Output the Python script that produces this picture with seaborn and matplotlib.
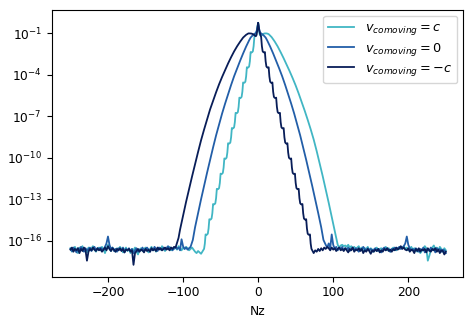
import numpy as np
import pandas as pd
import matplotlib
matplotlib.use("Agg")
import matplotlib.pyplot as plt
import seaborn as sns
from matplotlib.ticker import FixedLocator, NullLocator, LogFormatterMathtext

# ---------------- data (log10 of the plotted quantity) ----------------
labels = [r"$v_{comoving} = c$", r"$v_{comoving} = 0$", r"$v_{comoving} = -c$"]
colors = ["#41b6c4", "#225ea8", "#081d58"]

# noise floor segments (Nz step 2)
cyan_left_noise = [
    -16.55, -16.8, -16.6, -16.45, -16.7, -16.9, -16.5, -16.65, -16.4, -16.75,
    -16.6, -16.85, -16.5, -16.7, -16.55, -16.4, -16.65, -16.8, -16.6, -16.5,
    -16.7, -16.45, -16.6, -16.9, -16.55, -16.3, -16.6, -16.75, -16.5, -16.65,
    -16.8, -16.55, -16.7, -16.45, -16.6, -16.85, -16.65, -16.5, -16.75, -16.6,
    -16.9, -16.6, -16.7, -16.5, -16.8, -17.0, -16.65, -16.55, -16.75, -16.6,
    -16.5, -16.7, -16.85, -16.6, -16.45, -16.7, -16.55, -16.8, -16.6, -16.5,
    -16.65, -16.4, -16.6, -16.75, -16.5, -16.6, -16.45, -16.7, -16.55, -16.6,
    -16.5, -16.65, -16.4, -16.55, -16.7, -16.5, -16.6, -16.45, -16.55, -16.7,
    -16.6, -16.5, -16.65, -16.8, -16.9, -16.75, -16.85, -16.95]
cyan_right_noise = [
    -16.5, -16.35, -16.3, -16.4, -16.35, -16.45, -16.3, -16.5, -16.4, -16.55,
    -16.45, -16.6, -16.5, -16.4, -16.65, -16.5, -16.7, -16.55, -16.6, -16.45,
    -16.7, -16.55, -16.65, -16.8, -16.6, -16.5, -16.75, -16.6, -16.55, -16.7,
    -16.6, -16.45, -16.7, -16.55, -16.8, -16.6, -16.5, -16.65, -16.7, -16.55,
    -16.6, -16.45, -16.55, -16.4, -16.6, -16.5, -16.7, -16.6, -16.45, -16.65,
    -16.55, -16.7, -16.8, -16.6, -16.9, -16.75, -16.6, -16.4, -16.55, -17.45,
    -17.1, -16.7, -16.5, -16.35, -16.6, -16.5, -16.7, -16.45, -16.6, -16.8,
    -16.55, -16.7]
medium_left_noise = [
    -16.6, -16.75, -16.5, -16.65, -16.85, -16.55, -16.7, -16.45, -16.6, -16.8,
    -16.55, -16.7, -16.6, -16.5, -16.75, -16.6, -16.45, -16.7, -16.55, -16.65,
    -16.5, -16.6, -16.7, -16.45, -16.2, -15.7, -16.3, -16.6, -16.5, -16.75,
    -16.6, -16.8, -16.55, -16.65, -16.7, -16.5, -16.85, -16.6, -16.7, -16.55,
    -16.75, -16.6, -16.9, -16.7, -16.55, -16.8, -16.65, -16.7, -16.5, -16.75,
    -16.6, -16.5, -16.65, -16.8, -16.55, -16.7, -16.45, -16.6, -16.75, -16.5,
    -16.6, -16.7, -16.5, -16.65, -16.55, -16.4, -16.6, -16.5, -16.7, -16.55,
    -16.45, -16.6, -16.5, -16.7, -15.9, -16.4, -16.6, -16.5, -16.65, -16.55,
    -16.45]
medium_right_noise = [
    -16.3, -16.5, -16.2, -16.55, -15.55, -16.3, -16.6, -16.45, -16.7, -16.5,
    -16.6, -16.45, -16.7, -16.55, -16.65, -16.5, -16.75, -16.6, -16.5, -16.7,
    -16.55, -16.65, -16.8, -16.6, -16.7, -16.45, -16.6, -16.75, -16.55, -16.7,
    -16.6, -16.8, -16.65, -16.55, -16.75, -16.6, -16.7, -16.85, -16.6, -16.5,
    -16.7, -16.55, -16.65, -16.8, -16.6, -16.7, -16.5, -16.65, -16.55, -16.45,
    -16.6, -16.5, -16.4, -16.2, -15.7, -16.3, -16.55, -16.7, -16.6, -16.75,
    -16.55, -16.65, -16.8, -16.6, -16.7, -16.5, -16.85, -16.65, -16.6, -16.75,
    -16.5, -16.7, -16.6, -16.85, -16.55, -16.7, -16.6, -16.8, -16.65, -16.7,
    -16.9]
navy_left_noise = [
    -16.65, -16.5, -16.8, -16.6, -16.7, -16.55, -16.9, -16.6, -16.75, -16.5,
    -16.65, -17.45, -16.8, -16.6, -16.7, -16.5, -16.65, -16.75, -16.55, -16.7,
    -16.6, -16.8, -16.65, -16.5, -16.7, -16.4, -16.6, -16.75, -16.55, -16.65,
    -16.8, -16.6, -16.7, -16.55, -16.75, -16.6, -16.85, -16.65, -16.7, -16.6,
    -16.8, -16.7, -17.75, -16.9, -16.75, -16.6, -16.8, -16.65, -16.7, -16.85,
    -16.6, -16.75, -16.65, -16.8, -16.55, -16.7, -16.6, -16.75, -16.5, -16.65,
    -16.55, -16.7, -16.6, -16.5, -16.65, -16.55, -16.7, -16.5, -16.6, -16.45,
    -16.5]
navy_right_noise = [
    -16.9, -16.7, -16.8, -16.6, -16.75, -16.55, -16.7, -16.5, -16.6, -16.45,
    -16.55, -16.7, -16.5, -16.65, -16.55, -16.75, -16.6, -16.5, -16.7, -16.6,
    -16.75, -16.55, -16.7, -16.85, -16.6, -16.7, -16.5, -16.8, -16.65, -16.7,
    -16.55, -16.75, -16.6, -16.9, -16.7, -16.8, -16.6, -16.75, -16.95, -16.7,
    -16.8, -16.65, -16.75, -16.6, -16.85, -16.7, -16.8, -16.6, -16.7, -16.55,
    -16.75, -16.65, -16.8, -16.6, -16.7, -16.5, -16.65, -16.55, -16.4, -16.6,
    -16.5, -16.65, -16.7, -16.55, -16.8, -16.65, -16.7, -16.9, -16.6, -16.75,
    -16.55, -16.8, -16.65, -16.7, -16.6, -16.85, -16.55, -16.7, -16.8, -16.6,
    -16.7, -16.55, -16.8, -16.65, -16.9, -16.7, -16.75, -17.0, -16.8]

# staircase flanks (Nz step 1)
cyan_stair_log = [  # Nz = -72 .. -5
    -16.59, -16.22, -15.55, -15.58, -15.56, -15.49, -15.12,
    -14.45, -14.48, -14.46, -14.39, -14.02,
    -13.35, -13.38, -13.36, -13.29, -12.92,
    -12.25, -12.28, -12.26, -12.19, -11.82,
    -11.15, -11.18, -11.16, -11.09, -10.72,
    -10.05, -10.08, -10.06, -9.99, -9.62,
    -8.95, -8.98, -8.96, -8.89, -8.52,
    -7.85, -7.88, -7.86, -7.79, -7.42,
    -6.75, -6.78, -6.76, -6.69, -6.32,
    -5.65, -5.68, -5.66, -5.59, -5.22,
    -4.55, -4.58, -4.56, -4.49, -4.12,
    -3.45, -3.48, -3.46, -3.39, -3.02,
    -2.35, -2.38, -2.36, -2.29, -1.92,
    -1.25]
navy_stair_log = [  # Nz = 4 .. 71
    -1.25, -1.92, -2.29, -2.36, -2.38,
    -2.35, -3.02, -3.39, -3.46, -3.48,
    -3.45, -4.12, -4.49, -4.56, -4.58,
    -4.55, -5.22, -5.59, -5.66, -5.68,
    -5.65, -6.32, -6.69, -6.76, -6.78,
    -6.75, -7.42, -7.79, -7.86, -7.88,
    -7.85, -8.52, -8.89, -8.96, -8.98,
    -8.95, -9.62, -9.99, -10.06, -10.08,
    -10.05, -10.72, -11.09, -11.16, -11.18,
    -11.15, -11.82, -12.19, -12.26, -12.28,
    -12.25, -12.92, -13.29, -13.36, -13.38,
    -13.35, -14.02, -14.39, -14.46, -14.48,
    -14.45, -15.12, -15.49, -15.56, -15.58,
    -15.55, -16.22, -16.59]

# peak region + smooth flanks
cyan_core_nz = [-4, -3, -2, -1, 0, 1, 2, 3, 4, 5, 6, 7, 8, 9, 10, 11, 12, 14, 18, 22, 26, 30,
                34, 38, 42, 46, 50, 54, 58, 62, 66, 70, 74, 78, 82, 86, 90, 94, 98, 102, 106]
cyan_core_log = [-1.15, -1.0, -0.85, -0.55, -0.23, -0.7, -1.05, -1.15, -1.17, -1.12, -1.07,
                 -1.03, -1.01, -1.0, -1.0, -1.0, -1.01, -1.05, -1.27, -1.58, -1.94, -2.36,
                 -2.8, -3.27, -3.74, -4.24, -4.77, -5.35, -5.96, -6.59, -7.25, -7.94, -8.68,
                 -9.52, -10.41, -11.33, -12.28, -13.26, -14.26, -15.29, -16.3]
medium_core_nz = [-87, -84, -80, -76, -72, -68, -64, -60, -56, -52, -48, -44, -40, -36, -32,
                  -28, -24, -20, -16, -12, -10, -8, -6, -4, -3, -2, -1, 0, 1, 2, 3, 4, 6, 8,
                  10, 12, 16, 20, 24, 28, 32, 36, 40, 44, 48, 52, 56, 60, 64, 68, 72, 76, 80,
                  84, 87]
medium_core_log = [-15.95, -15.03, -14.0, -13.0, -12.03, -11.08, -10.15, -9.25, -8.38, -7.58,
                   -6.8, -6.08, -5.4, -4.73, -4.1, -3.53, -2.98, -2.45, -1.95, -1.5, -1.3,
                   -1.18, -1.08, -1.0, -0.95, -0.85, -0.6, -0.23, -0.6, -0.85, -0.95, -1.0,
                   -1.08, -1.18, -1.3, -1.5, -1.95, -2.45, -2.98, -3.53, -4.1, -4.73, -5.4,
                   -6.08, -6.8, -7.58, -8.38, -9.25, -10.15, -11.08, -12.03, -13.0, -14.0,
                   -15.03, -15.95]
navy_core_nz = [-106, -104, -100, -96, -92, -88, -84, -80, -76, -72, -68, -64, -60, -56, -52,
                -48, -44, -40, -36, -32, -28, -24, -20, -16, -13, -11, -9, -8, -6, -5, -4, -3,
                -2, -1, 0, 1, 2, 3]
navy_core_log = [-15.8, -15.2, -14.2, -13.2, -12.27, -11.35, -10.45, -9.58, -8.73, -7.96,
                 -7.22, -6.5, -5.87, -5.26, -4.68, -4.15, -3.65, -3.17, -2.72, -2.3, -1.93,
                 -1.6, -1.3, -1.1, -1.0, -1.0, -1.01, -1.03, -1.08, -1.12, -1.18, -1.2,
                 -1.1, -0.7, -0.23, -0.6, -0.9, -1.1]

# ---------------- assemble ----------------
cyan_nz = np.concatenate([np.arange(-250, -75, 2), np.arange(-72, -4), cyan_core_nz,
                          np.arange(108, 251, 2)])
cyan_log = np.concatenate([cyan_left_noise, cyan_stair_log, cyan_core_log, cyan_right_noise])
medium_nz = np.concatenate([np.arange(-250, -89, 2), medium_core_nz, np.arange(90, 251, 2)])
medium_log = np.concatenate([medium_left_noise, medium_core_log, medium_right_noise])
navy_nz = np.concatenate([np.arange(-250, -109, 2), navy_core_nz, np.arange(4, 72),
                          np.arange(74, 251, 2)])
navy_log = np.concatenate([navy_left_noise, navy_core_log, navy_stair_log, navy_right_noise])

frames = []
for lab, nz, lg in zip(labels, [cyan_nz, medium_nz, navy_nz], [cyan_log, medium_log, navy_log]):
    frames.append(pd.DataFrame({"Nz": nz, "val": 10.0 ** np.asarray(lg), "series": lab}))
df = pd.concat(frames, ignore_index=True)

# ---------------- plot ----------------
plt.rcParams["font.family"] = ["DejaVu Sans"]
plt.rcParams["font.size"] = 8.8
plt.rcParams["mathtext.fontset"] = "dejavusans"

fig = plt.figure(figsize=(4.74, 3.25), dpi=100)
ax = fig.add_axes([0.109, 0.149, 0.868, 0.820])

for lab, col in zip(labels, colors):
    sns.lineplot(data=df[df["series"] == lab], x="Nz", y="val", color=col, label=lab,
                 estimator=None, sort=False, lw=1.3, ax=ax)

ax.set_yscale("log")
ax.set_xlim(-275, 273)
ax.set_ylim(10 ** -18.6, 10 ** 0.69)
ax.yaxis.set_major_locator(FixedLocator([10.0 ** e for e in (-16, -13, -10, -7, -4, -1)]))
ax.yaxis.set_major_formatter(LogFormatterMathtext())
ax.yaxis.set_minor_locator(NullLocator())
ax.set_xticks([-200, -100, 0, 100, 200])
ax.set_xlabel("Nz")
ax.set_ylabel("")
ax.legend(loc="upper right", fontsize=9.3, labelspacing=0.3, borderaxespad=0.45)

fig.savefig("out.png", dpi=100)
